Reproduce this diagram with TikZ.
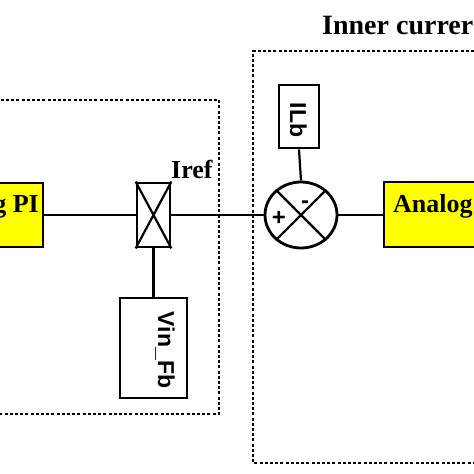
\documentclass[tikz,border=0pt]{standalone}
\usepackage{fontspec}
\setmainfont{Liberation Serif}
\setsansfont{Liberation Sans}
\usetikzlibrary{shapes.geometric}
\definecolor{blockyellow}{RGB}{255,255,0}
\tikzset{
  wire/.style={line width=2.2pt},
  blk/.style={draw, line width=2.8pt, inner sep=0pt},
  pibox/.style={blk, fill=blockyellow},
  loopbox/.style={line width=2.3pt, dash pattern=on 3pt off 2.2pt},
  serlabel/.style={font=\fontsize{26}{30}\selectfont\bfseries, inner sep=0pt},
  sanslabel/.style={font=\fontsize{23}{27}\selectfont\sffamily\bfseries, inner sep=0pt, rotate=-90, anchor=base},
  signlabel/.style={font=\fontsize{24}{28}\selectfont\sffamily\bfseries, inner sep=0pt}
}
\begin{document}
\begin{tikzpicture}[x=1pt,y=-1pt]
\useasboundingbox (0,0) rectangle (474,474);
\clip (0,0) rectangle (474,474);
% dotted loop boxes
\draw[loopbox] (-20,100) -- (219,100) -- (219,414) -- (-20,414);
\draw[loopbox] (500,51) -- (253,51) -- (253,463) -- (500,463);
\node[serlabel, font=\fontsize{28}{32}\selectfont\bfseries, anchor=base west] (title) at (322,34) {Inner currer};
% blocks
\node[pibox, minimum width=110pt, minimum height=64pt] (pi) at (-12,215) {};
\node[serlabel, anchor=base east] (pitext) at (39,212) {g PI};
\node[blk, minimum width=33pt, minimum height=64pt] (mult) at (153.5,215) {};
\draw[wire] (mult.north west) -- (mult.south east) (mult.north east) -- (mult.south west);
\node[serlabel, anchor=base west] (iref) at (171,178) {Iref};
\node[blk, minimum width=67pt, minimum height=100pt] (vin) at (153.5,348) {};
\node[sanslabel] (vintext) at (158,350) {Vin\_Fb};
\node[draw, ellipse, line width=2.8pt, minimum width=72pt, minimum height=66pt, inner sep=0pt] (sum) at (301,215) {};
\draw[wire] (sum.45) -- (sum.225) (sum.135) -- (sum.315);
\node[signlabel] (plus) at (279,218) {+};
\node[signlabel] (minus) at (305,205) {-};
\node[blk, minimum width=40pt, minimum height=63pt] (ilb) at (299,116.5) {};
\node[sanslabel] (ilbtext) at (290,120) {ILb};
\node[pibox, minimum width=120pt, minimum height=65pt] (analog) at (444,214.5) {};
\node[serlabel, anchor=base west] (antext) at (393,212) {Analog};
% wires
\draw[wire] (pi.east |- 0,215) -- (mult.west |- 0,215);
\draw[wire] (mult.east |- 0,215) -- (sum.west);
\draw[wire] (sum.east) -- (analog.west |- 0,215);
\draw[wire] (ilb.south) -- (sum.north);
\draw[wire] (mult.south) -- (vin.north);
\end{tikzpicture}
\end{document}
